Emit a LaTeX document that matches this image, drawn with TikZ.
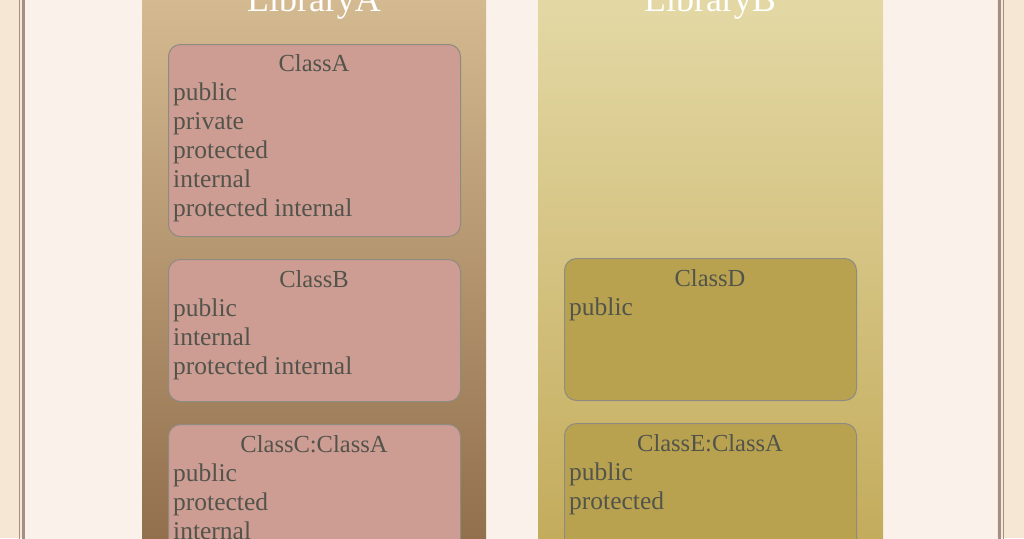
\documentclass[tikz,border=0pt]{standalone}
\usepackage{fontspec}
\setmainfont{Liberation Serif}
\definecolor{paper}{HTML}{F5E7D4}
\definecolor{panel}{HTML}{FAF2EA}
\definecolor{rule}{HTML}{A48E86}
\definecolor{libAtop}{HTML}{D5BB92}
\definecolor{libAbot}{HTML}{916E4C}
\definecolor{libBtop}{HTML}{E4D9A6}
\definecolor{libBbot}{HTML}{C3AB5B}
\definecolor{classAfill}{HTML}{CD9C92}
\definecolor{classBfill}{HTML}{B9A24F}
\definecolor{boxline}{HTML}{8E8B80}
\definecolor{ink}{HTML}{52544C}
\tikzset{
  libtitle/.style={anchor=base,text=white,font=\fontsize{36}{40}\selectfont,inner sep=0pt},
  classbox/.style={anchor=north west,draw=boxline,line width=1pt,rounded corners=12pt,
    minimum width=292pt,inner sep=0pt},
  classtitle/.style={anchor=base,text=ink,font=\fontsize{24.5}{29}\selectfont,inner sep=0pt},
  member/.style={anchor=base west,text=ink,font=\fontsize{25.5}{29}\selectfont,inner sep=0pt}
}
\begin{document}
\begin{tikzpicture}[x=1pt,y=-1pt]

  \useasboundingbox (0,0) rectangle (1024,538);
  \clip (0,0) rectangle (1024,538);

  % paper and frame
  \fill[paper] (0,0) rectangle (1024,538);
  \fill[panel] (25,-5) rectangle (997,545);
  \draw[rule,line width=1pt] (19.5,-5) -- (19.5,545);
  \draw[rule,line width=2.5pt] (23.5,-5) -- (23.5,545);
  \draw[rule,line width=3pt] (999,-5) -- (999,545);
  \draw[rule,line width=1pt] (1003.5,-5) -- (1003.5,545);

  % libraries
  \shade[top color=libAtop,bottom color=libAbot] (142,-10) rectangle (486,548);
  \shade[top color=libBtop,bottom color=libBbot] (538,-10) rectangle (883,548);
  \node[libtitle] (libA) at (314,12) {LibraryA};
  \node[libtitle] (libB) at (710,12) {LibraryB};

  \begin{scope}[every node/.style={classbox,fill=classAfill}]
    \node[minimum height=192pt] (classA) at (168,44)  {};
    \node[minimum height=142pt] (classB) at (168,259) {};
    \node[minimum height=200pt] (classC) at (168,424) {};
  \end{scope}

  \begin{scope}[every node/.style={classbox,fill=classBfill}]
    \node[minimum height=142pt] (classD) at (564,258) {};
    \node[minimum height=200pt] (classE) at (564,423) {};
  \end{scope}

  % class names and members
  \node[classtitle] (classA-name) at (314,71) {ClassA};
  \foreach \m [count=\i] in {public,private,protected,internal,protected internal}
    \node[member] (classA-\i) at (173,71+29*\i) {\m};

  \node[classtitle] (classB-name) at (314,287) {ClassB};
  \foreach \m [count=\i] in {public,internal,protected internal}
    \node[member] (classB-\i) at (173,287+29*\i) {\m};

  \node[classtitle] (classC-name) at (314,452) {ClassC:ClassA};
  \foreach \m [count=\i] in {public,protected,internal}
    \node[member] (classC-\i) at (173,452+29*\i) {\m};

  \node[classtitle] (classD-name) at (710,286) {ClassD};
  \foreach \m [count=\i] in {public}
    \node[member] (classD-\i) at (569,286+29*\i) {\m};

  \node[classtitle] (classE-name) at (710,451) {ClassE:ClassA};
  \foreach \m [count=\i] in {public,protected}
    \node[member] (classE-\i) at (569,451+29*\i) {\m};

\end{tikzpicture}
\end{document}
